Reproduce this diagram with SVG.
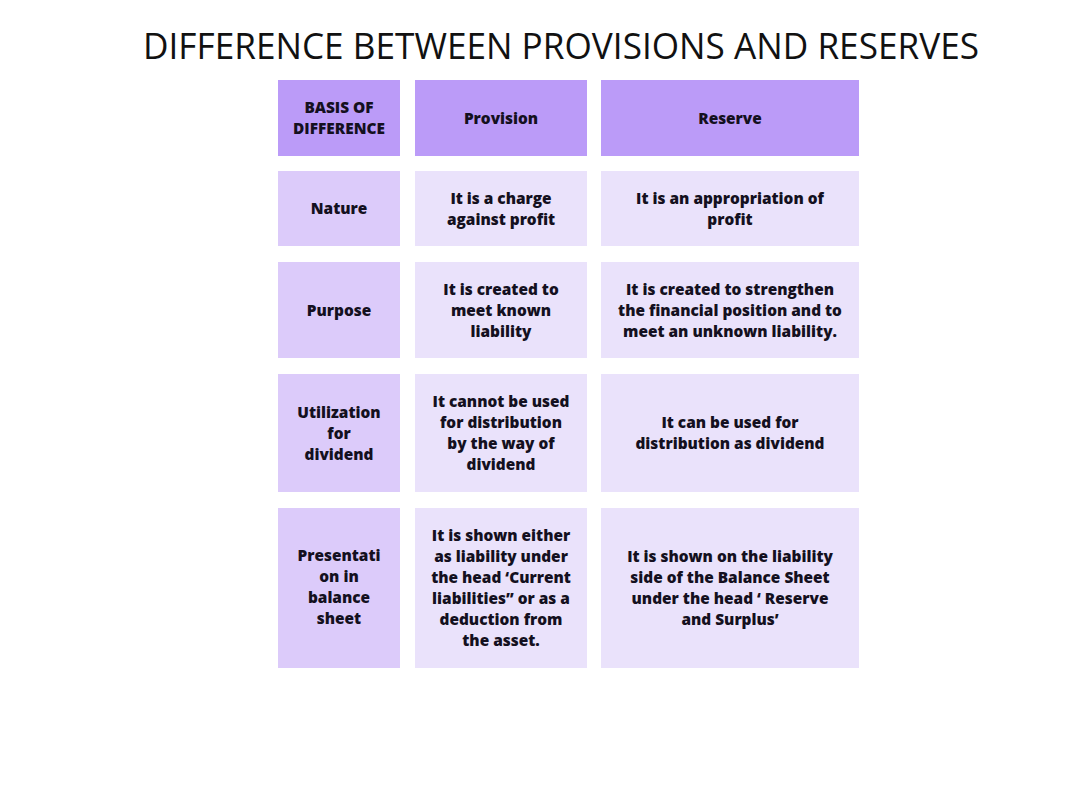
<svg xmlns="http://www.w3.org/2000/svg" width="1080" height="810" viewBox="0 0 1080 810">
<style>
.hd{fill:#BB9BF8}
.c1{fill:#DCCBFA}
.cb{fill:#EAE2FB}
.t{font-family:"Open Sans","Noto Sans","Liberation Sans",sans-serif;font-weight:800;font-size:15.4px;fill:#141020;text-anchor:middle}
.title{font-family:"Open Sans","Noto Sans","Liberation Sans",sans-serif;font-weight:400;font-size:37px;fill:#111;text-anchor:middle}
</style>
<rect width="1080" height="810" fill="#ffffff"/>
<text class="title" x="561" y="59" textLength="836" lengthAdjust="spacingAndGlyphs">DIFFERENCE BETWEEN PROVISIONS AND RESERVES</text>

<g id="header-basis"><rect class="hd" x="278" y="80" width="122" height="76"/>
<text class="t" x="339" y="113">BASIS OF</text><text class="t" x="339" y="134">DIFFERENCE</text></g>
<g id="header-provision"><rect class="hd" x="415" y="80" width="172" height="76"/>
<text class="t" x="501" y="124">Provision</text></g>
<g id="header-reserve"><rect class="hd" x="601" y="80" width="258" height="76"/>
<text class="t" x="730" y="124">Reserve</text></g>

<g id="nature-label"><rect class="c1" x="278" y="171" width="122" height="75"/>
<text class="t" x="339" y="214">Nature</text></g>
<g id="nature-provision"><rect class="cb" x="415" y="171" width="172" height="75"/>
<text class="t" x="501" y="204">It is a charge</text><text class="t" x="501" y="225">against profit</text></g>
<g id="nature-reserve"><rect class="cb" x="601" y="171" width="258" height="75"/>
<text class="t" x="730" y="204">It is an appropriation of</text><text class="t" x="730" y="225">profit</text></g>

<g id="purpose-label"><rect class="c1" x="278" y="262" width="122" height="96"/>
<text class="t" x="339" y="316">Purpose</text></g>
<g id="purpose-provision"><rect class="cb" x="415" y="262" width="172" height="96"/>
<text class="t" x="501" y="295">It is created to</text><text class="t" x="501" y="316">meet known</text><text class="t" x="501" y="337">liability</text></g>
<g id="purpose-reserve"><rect class="cb" x="601" y="262" width="258" height="96"/>
<text class="t" x="730" y="295">It is created to strengthen</text><text class="t" x="730" y="316">the financial position and to</text><text class="t" x="730" y="337">meet an unknown liability.</text></g>

<g id="utilization-label"><rect class="c1" x="278" y="374" width="122" height="118"/>
<text class="t" x="339" y="418">Utilization</text><text class="t" x="339" y="439">for</text><text class="t" x="339" y="460">dividend</text></g>
<g id="utilization-provision"><rect class="cb" x="415" y="374" width="172" height="118"/>
<text class="t" x="501" y="407">It cannot be used</text><text class="t" x="501" y="428">for distribution</text><text class="t" x="501" y="449">by the way of</text><text class="t" x="501" y="470">dividend</text></g>
<g id="utilization-reserve"><rect class="cb" x="601" y="374" width="258" height="118"/>
<text class="t" x="730" y="428">It can be used for</text><text class="t" x="730" y="449">distribution as dividend</text></g>

<g id="presentation-label"><rect class="c1" x="278" y="508" width="122" height="160"/>
<text class="t" x="339" y="561">Presentati</text><text class="t" x="339" y="582">on in</text><text class="t" x="339" y="603">balance</text><text class="t" x="339" y="624">sheet</text></g>
<g id="presentation-provision"><rect class="cb" x="415" y="508" width="172" height="160"/>
<text class="t" x="501" y="541">It is shown either</text><text class="t" x="501" y="562">as liability under</text><text class="t" x="501" y="583">the head ‘Current</text><text class="t" x="501" y="604">liabilities” or as a</text><text class="t" x="501" y="625">deduction from</text><text class="t" x="501" y="646">the asset.</text></g>
<g id="presentation-reserve"><rect class="cb" x="601" y="508" width="258" height="160"/>
<text class="t" x="730" y="562">It is shown on the liability</text><text class="t" x="730" y="583">side of the Balance Sheet</text><text class="t" x="730" y="604">under the head ‘ Reserve</text><text class="t" x="730" y="625">and Surplus’</text></g>
<g id="connectors"></g>
</svg>
